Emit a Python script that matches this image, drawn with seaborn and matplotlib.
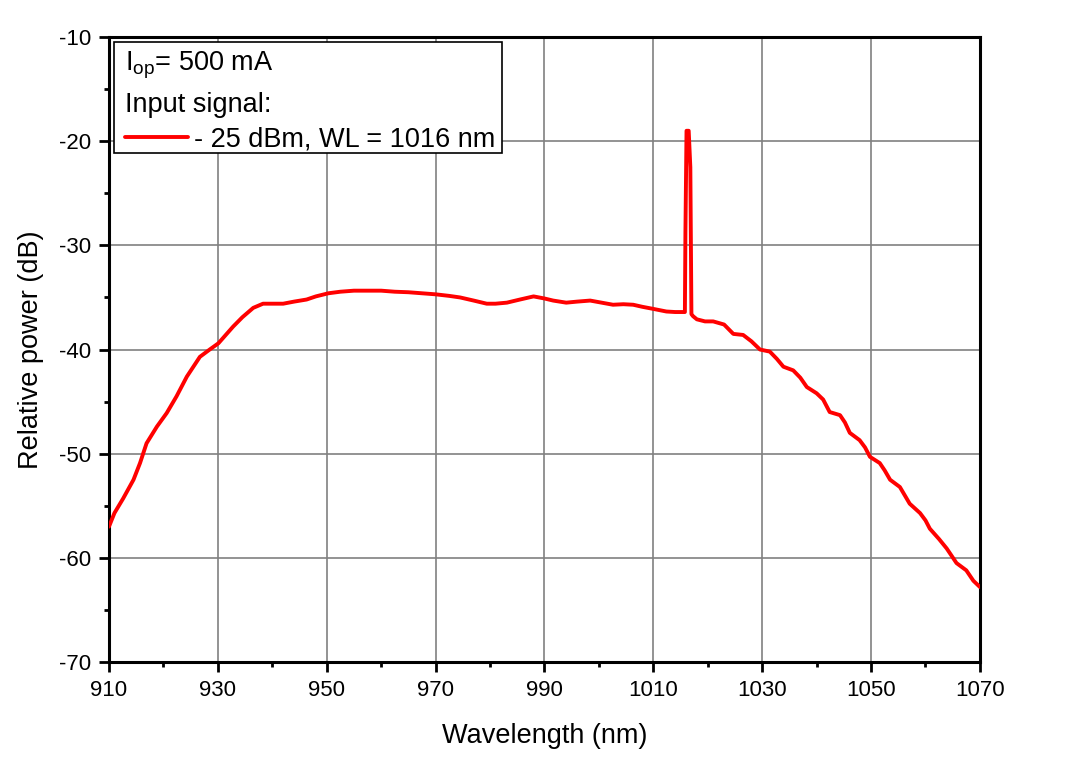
import matplotlib
matplotlib.use("Agg")
import matplotlib.pyplot as plt
from matplotlib.ticker import MultipleLocator
from matplotlib.offsetbox import HPacker, VPacker, DrawingArea
import seaborn as sns
import pandas as pd

wavelength_nm = [910, 911, 912.6, 914.5, 915.7, 916.9, 918.8, 920.6, 922.4, 924.3,
                 926.7, 928.5, 930.1, 932.8, 934.5, 936.5, 938.3, 940, 942, 944,
                 946.3, 948, 950.3, 952.5, 955, 957.5, 960, 962.5, 965, 967.5,
                 970, 972.5, 974.5, 977, 979.4, 981, 983.1, 985.5, 988, 990,
                 991.6, 994, 996, 998.4, 1000.5, 1002.6, 1004.5, 1006.3, 1008, 1010,
                 1012.4, 1014, 1015.8, 1015.9, 1016.1, 1016.5, 1016.8, 1017.0, 1017.3, 1018,
                 1019.5, 1021, 1023, 1024.7, 1026.5, 1028, 1029.6, 1031.4, 1032.7, 1033.9,
                 1035.7, 1037, 1038.2, 1040, 1041.2, 1042.4, 1044.3, 1045.2, 1046.1, 1047.9,
                 1048.9, 1049.8, 1051.6, 1052.5, 1053.5, 1055.3, 1056.2, 1057.1, 1059, 1060,
                 1060.8, 1062.5, 1063.9, 1065.7, 1067.5, 1068.8, 1070]

power_db = [-57.0, -55.7, -54.3, -52.5, -50.9, -49.0, -47.4, -46.1, -44.5, -42.6,
            -40.7, -40.0, -39.4, -37.8, -36.9, -36.0, -35.6, -35.6, -35.6, -35.4,
            -35.2, -34.9, -34.6, -34.45, -34.35, -34.35, -34.35, -34.45, -34.5, -34.6,
            -34.7, -34.85, -35.0, -35.3, -35.6, -35.6, -35.5, -35.2, -34.9, -35.1,
            -35.3, -35.5, -35.4, -35.3, -35.5, -35.7, -35.65, -35.7, -35.9, -36.1,
            -36.35, -36.4, -36.4, -28.7, -19.0, -19.0, -22.5, -36.6, -36.8, -37.1,
            -37.3, -37.3, -37.6, -38.5, -38.6, -39.2, -40.0, -40.2, -40.9, -41.65,
            -42.0, -42.7, -43.6, -44.2, -44.8, -46.0, -46.3, -47.0, -48.0, -48.7,
            -49.4, -50.3, -50.9, -51.6, -52.5, -53.2, -54.0, -54.8, -55.7, -56.4,
            -57.2, -58.2, -59.1, -60.5, -61.2, -62.2, -62.8]

x_ticks = [910, 930, 950, 970, 990, 1010, 1030, 1050, 1070]
y_ticks = [-70, -60, -50, -40, -30, -20, -10]

legend_title = "$\\mathregular{I_{op}}$= 500 mA\nInput signal:"
series_label = "- 25 dBm, WL = 1016 nm"

sns.set_theme(style="white")
plt.rcParams['font.family'] = ['Liberation Sans', 'DejaVu Sans']
plt.rcParams['axes.unicode_minus'] = False
plt.rcParams['text.color'] = 'black'
plt.rcParams['legend.labelcolor'] = 'black'

df = pd.DataFrame({"Wavelength (nm)": wavelength_nm, "Relative power (dB)": power_db})

fig = plt.figure(figsize=(10.9, 7.62), dpi=100)
ax = fig.add_axes([0.1, 0.1312, 0.799, 0.8202])

sns.lineplot(data=df, x="Wavelength (nm)", y="Relative power (dB)", ax=ax,
             color="#ff0000", linewidth=2.8, estimator=None, sort=False,
             label=series_label, zorder=3)

ax.set_xlim(910, 1070)
ax.set_ylim(-70, -10)
ax.set_xticks(x_ticks)
ax.set_yticks(y_ticks)
ax.xaxis.set_minor_locator(MultipleLocator(10))
ax.yaxis.set_minor_locator(MultipleLocator(5))
ax.grid(True, which="major", color="#808080", linewidth=1.2)
ax.set_axisbelow(True)

for s in ax.spines.values():
    s.set_color("black")
    s.set_linewidth(2.2)
    s.set_visible(True)

ax.tick_params(axis="both", which="major", direction="out", length=7, width=2.0,
               labelsize=16, color="black", labelcolor="black", pad=6,
               bottom=True, left=True, top=False, right=False)
ax.tick_params(axis="both", which="minor", direction="out", length=3.5, width=2.0,
               color="black", bottom=True, left=True, top=False, right=False)

ax.set_xlabel("Wavelength (nm)", fontsize=19.5, color="black", labelpad=15.5)
ax.set_ylabel("Relative power (dB)", fontsize=19.5, color="black", labelpad=10.5)

leg = ax.legend(loc="upper left", title=legend_title, fontsize=19.5, title_fontsize=19.5,
                frameon=True, fancybox=False, framealpha=1, edgecolor="black",
                borderaxespad=0.2, borderpad=0.15, handlelength=2.3, handletextpad=0.22,
                alignment="left", labelspacing=0.3)
leg.get_frame().set_linewidth(1.2)
leg.get_title().set_linespacing(1.55)
leg.get_title().set_color("black")
for t in leg.get_texts():
    t.set_color("black")

# asymmetric inner padding of the legend box
try:
    box = leg._legend_box
    title_box, handle_box = box.get_children()
    title_row = VPacker(pad=0, sep=0, align="left",
                        children=[DrawingArea(0, 5.5),
                                  HPacker(pad=0, sep=0, children=[DrawingArea(7.9, 0), title_box])])
    entry_row = HPacker(pad=0, sep=0, align="baseline",
                        children=[DrawingArea(7.9, 0), handle_box, DrawingArea(5.0, 0)])
    for p in (title_row, entry_row):
        p.set_figure(fig)
    box._children = [title_row, entry_row]
    box.pad = 0
except Exception:
    pass

fig.savefig("out.png", dpi=100, facecolor="white")
